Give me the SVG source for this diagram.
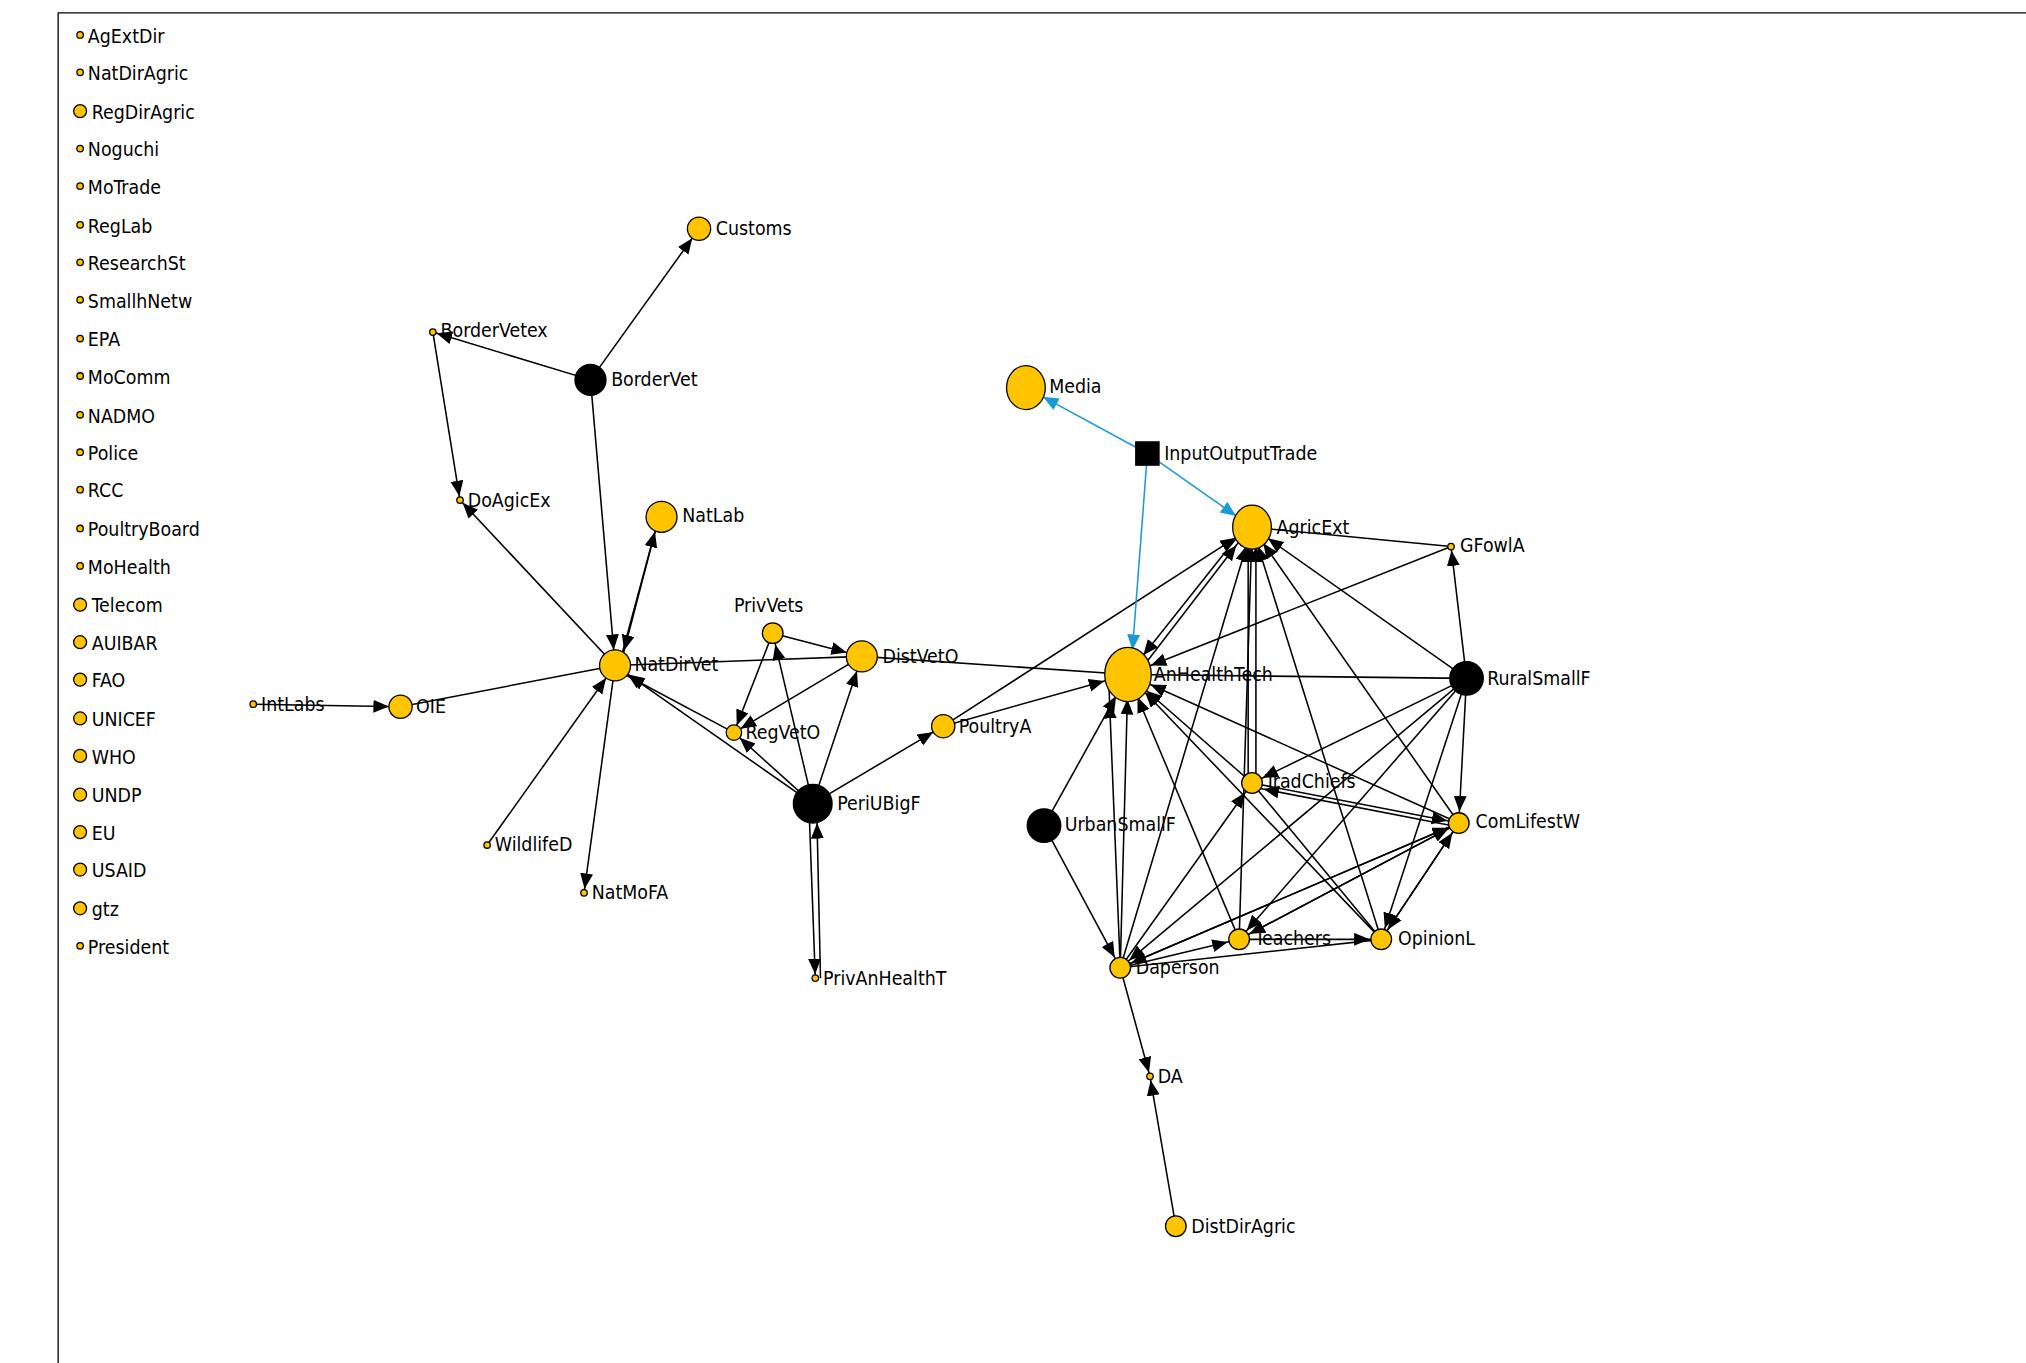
<svg xmlns="http://www.w3.org/2000/svg" width="2026" height="1363" viewBox="0 0 2026 1363">
<style>
text{font-family:"DejaVu Sans Condensed","Liberation Sans",sans-serif;font-size:15px;fill:#000}
.y{fill:#ffc400;stroke:#000;stroke-width:1}
.k{fill:#000;stroke:#000}
.e line{stroke:#000;stroke-width:1.2}
.b{stroke:#1a9ad6 !important}
</style>
<defs>
<marker id="a3" markerUnits="userSpaceOnUse" markerWidth="20" markerHeight="20" refX="15" refY="5" orient="auto"><path d="M0,0L12,5L0,10z"/></marker>
<marker id="a6" markerUnits="userSpaceOnUse" markerWidth="20" markerHeight="20" refX="18" refY="5" orient="auto"><path d="M0,0L12,5L0,10z"/></marker>
<marker id="a9" markerUnits="userSpaceOnUse" markerWidth="25" markerHeight="20" refX="21" refY="5" orient="auto"><path d="M0,0L12,5L0,10z"/></marker>
<marker id="a12" markerUnits="userSpaceOnUse" markerWidth="30" markerHeight="20" refX="24" refY="5" orient="auto"><path d="M0,0L12,5L0,10z"/></marker>
<marker id="a15" markerUnits="userSpaceOnUse" markerWidth="30" markerHeight="20" refX="27" refY="5" orient="auto"><path d="M0,0L12,5L0,10z"/></marker>
<marker id="a19" markerUnits="userSpaceOnUse" markerWidth="35" markerHeight="20" refX="31" refY="5" orient="auto"><path d="M0,0L12,5L0,10z"/></marker>
<marker id="b15" markerUnits="userSpaceOnUse" markerWidth="30" markerHeight="20" refX="27" refY="5" orient="auto"><path d="M0,0L12,5L0,10z" fill="#1a9ad6"/></marker>
<marker id="b19" markerUnits="userSpaceOnUse" markerWidth="35" markerHeight="20" refX="31" refY="5" orient="auto"><path d="M0,0L12,5L0,10z" fill="#1a9ad6"/></marker>
</defs>
<rect width="2026" height="1363" fill="#fff"/>
<g transform="scale(1.2921)">
<path d="M45,1060V10H1568" fill="none" stroke="#000" stroke-width="1"/>
<g id="list">
<g id="n-AgExtDir"><circle class="y" cx="62" cy="27" r="2.5"/><text x="68" y="33">AgExtDir</text></g>
<g id="n-NatDirAgric"><circle class="y" cx="62" cy="56" r="2.5"/><text x="68" y="62">NatDirAgric</text></g>
<g id="n-RegDirAgric"><circle class="y" cx="62" cy="86" r="5"/><text x="71" y="92">RegDirAgric</text></g>
<g id="n-Noguchi"><circle class="y" cx="62" cy="115" r="2.5"/><text x="68" y="121">Noguchi</text></g>
<g id="n-MoTrade"><circle class="y" cx="62" cy="144" r="2.5"/><text x="68" y="150">MoTrade</text></g>
<g id="n-RegLab"><circle class="y" cx="62" cy="174" r="2.5"/><text x="68" y="180">RegLab</text></g>
<g id="n-ResearchSt"><circle class="y" cx="62" cy="203" r="2.5"/><text x="68" y="209">ResearchSt</text></g>
<g id="n-SmallhNetw"><circle class="y" cx="62" cy="232" r="2.5"/><text x="68" y="238">SmallhNetw</text></g>
<g id="n-EPA"><circle class="y" cx="62" cy="262" r="2.5"/><text x="68" y="268">EPA</text></g>
<g id="n-MoComm"><circle class="y" cx="62" cy="291" r="2.5"/><text x="68" y="297">MoComm</text></g>
<g id="n-NADMO"><circle class="y" cx="62" cy="321" r="2.5"/><text x="68" y="327">NADMO</text></g>
<g id="n-Police"><circle class="y" cx="62" cy="350" r="2.5"/><text x="68" y="356">Police</text></g>
<g id="n-RCC"><circle class="y" cx="62" cy="379" r="2.5"/><text x="68" y="385">RCC</text></g>
<g id="n-PoultryBoard"><circle class="y" cx="62" cy="409" r="2.5"/><text x="68" y="415">PoultryBoard</text></g>
<g id="n-MoHealth"><circle class="y" cx="62" cy="438" r="2.5"/><text x="68" y="444">MoHealth</text></g>
<g id="n-Telecom"><circle class="y" cx="62" cy="468" r="5"/><text x="71" y="474">Telecom</text></g>
<g id="n-AUIBAR"><circle class="y" cx="62" cy="497" r="5"/><text x="71" y="503">AUIBAR</text></g>
<g id="n-FAO"><circle class="y" cx="62" cy="526" r="5"/><text x="71" y="532">FAO</text></g>
<g id="n-UNICEF"><circle class="y" cx="62" cy="556" r="5"/><text x="71" y="562">UNICEF</text></g>
<g id="n-WHO"><circle class="y" cx="62" cy="585" r="5"/><text x="71" y="591">WHO</text></g>
<g id="n-UNDP"><circle class="y" cx="62" cy="615" r="5"/><text x="71" y="621">UNDP</text></g>
<g id="n-EU"><circle class="y" cx="62" cy="644" r="5"/><text x="71" y="650">EU</text></g>
<g id="n-USAID"><circle class="y" cx="62" cy="673" r="5"/><text x="71" y="679">USAID</text></g>
<g id="n-gtz"><circle class="y" cx="62" cy="703" r="5"/><text x="71" y="709">gtz</text></g>
<g id="n-President"><circle class="y" cx="62" cy="732" r="2.5"/><text x="68" y="738">President</text></g>
</g>
<g id="connectors" class="e">
<line x1="457" y1="294" x2="541" y2="177" marker-end="url(#a9)"/>
<line x1="457" y1="294" x2="335" y2="257" marker-end="url(#a3)"/>
<line x1="335" y1="257" x2="356" y2="387" marker-end="url(#a3)"/>
<line x1="457" y1="294" x2="476" y2="515" marker-end="url(#a12)"/>
<line x1="476" y1="515" x2="356" y2="387" marker-end="url(#a3)"/>
<line x1="479" y1="515" x2="510" y2="400" marker-end="url(#a12)"/>
<line x1="510" y1="400" x2="480" y2="515" marker-end="url(#a12)"/>
<line x1="196" y1="545" x2="310" y2="547" marker-end="url(#a9)"/>
<line x1="310" y1="547" x2="476" y2="515"/>
<line x1="377" y1="654" x2="476" y2="515" marker-end="url(#a12)"/>
<line x1="476" y1="515" x2="452" y2="691" marker-end="url(#a3)"/>
<line x1="476" y1="515" x2="667" y2="508"/>
<line x1="629" y1="622" x2="476" y2="515" marker-end="url(#a12)"/>
<line x1="568" y1="567" x2="476" y2="518" marker-end="url(#a12)"/>
<line x1="598" y1="490" x2="667" y2="508" marker-end="url(#a12)"/>
<line x1="598" y1="490" x2="568" y2="567" marker-end="url(#a6)"/>
<line x1="667" y1="508" x2="568" y2="567" marker-end="url(#a6)"/>
<line x1="629" y1="622" x2="598" y2="490" marker-end="url(#a9)"/>
<line x1="629" y1="622" x2="667" y2="508" marker-end="url(#a12)"/>
<line x1="629" y1="622" x2="568" y2="567" marker-end="url(#a6)"/>
<line x1="629" y1="622" x2="730" y2="562" marker-end="url(#a9)"/>
<line x1="626" y1="622" x2="631" y2="757" marker-end="url(#a3)"/>
<line x1="635" y1="757" x2="632" y2="622" marker-end="url(#a15)"/>
<line x1="667" y1="508" x2="873" y2="522"/>
<line x1="730" y1="562" x2="873" y2="522" marker-end="url(#a19)"/>
<line x1="730" y1="562" x2="969" y2="408" marker-end="url(#a15)"/>
<line class="b" x1="888" y1="351" x2="794" y2="300" marker-end="url(#b15)"/>
<line class="b" x1="888" y1="351" x2="969" y2="408" marker-end="url(#b15)"/>
<line class="b" x1="888" y1="351" x2="875" y2="522" marker-end="url(#b19)"/>
<line x1="962" y1="410" x2="873" y2="522" marker-end="url(#a19)"/>
<line x1="880" y1="522" x2="966" y2="410" marker-end="url(#a15)"/>
<line x1="1123" y1="423" x2="969" y2="408"/>
<line x1="1123" y1="423" x2="873" y2="522" marker-end="url(#a19)"/>
<line x1="1135" y1="525" x2="1123" y2="423" marker-end="url(#a3)"/>
<line x1="1135" y1="525" x2="873" y2="522"/>
<line x1="1135" y1="525" x2="969" y2="408" marker-end="url(#a15)"/>
<line x1="1135" y1="525" x2="1129" y2="637" marker-end="url(#a9)"/>
<line x1="1135" y1="525" x2="969" y2="606" marker-end="url(#a9)"/>
<line x1="1135" y1="525" x2="867" y2="749" marker-end="url(#a9)"/>
<line x1="1135" y1="525" x2="959" y2="727" marker-end="url(#a9)"/>
<line x1="1135" y1="525" x2="1069" y2="727" marker-end="url(#a9)"/>
<line x1="966" y1="606" x2="966" y2="408" marker-end="url(#a15)"/>
<line x1="972" y1="606" x2="972" y2="408" marker-end="url(#a15)"/>
<line x1="1129" y1="637" x2="873" y2="522" marker-end="url(#a19)"/>
<line x1="969" y1="606" x2="1129" y2="637" marker-end="url(#a9)"/>
<line x1="1129" y1="640" x2="969" y2="609" marker-end="url(#a9)"/>
<line x1="969" y1="606" x2="1069" y2="727"/>
<line x1="808" y1="639" x2="873" y2="522" marker-end="url(#a19)"/>
<line x1="808" y1="639" x2="867" y2="749" marker-end="url(#a9)"/>
<line x1="867" y1="749" x2="873" y2="522" marker-end="url(#a19)"/>
<line x1="867" y1="749" x2="858" y2="525" marker-end="url(#a19)"/>
<line x1="867" y1="749" x2="969" y2="408" marker-end="url(#a15)"/>
<line x1="867" y1="749" x2="969" y2="606" marker-end="url(#a9)"/>
<line x1="867" y1="749" x2="959" y2="727" marker-end="url(#a9)"/>
<line x1="867" y1="749" x2="1069" y2="727"/>
<line x1="867" y1="749" x2="1129" y2="637" marker-end="url(#a9)"/>
<line x1="867" y1="749" x2="890" y2="833" marker-end="url(#a3)"/>
<line x1="910" y1="949" x2="890" y2="833" marker-end="url(#a3)"/>
<line x1="959" y1="727" x2="969" y2="408" marker-end="url(#a15)"/>
<line x1="959" y1="727" x2="873" y2="522" marker-end="url(#a19)"/>
<line x1="959" y1="727" x2="1069" y2="727" marker-end="url(#a9)"/>
<line x1="959" y1="727" x2="1129" y2="637" marker-end="url(#a9)"/>
<line x1="1129" y1="637" x2="969" y2="408" marker-end="url(#a15)"/>
<line x1="1129" y1="637" x2="867" y2="749" marker-end="url(#a9)"/>
<line x1="1129" y1="637" x2="959" y2="727" marker-end="url(#a9)"/>
<line x1="1129" y1="637" x2="1069" y2="727" marker-end="url(#a9)"/>
<line x1="1069" y1="727" x2="969" y2="408" marker-end="url(#a15)"/>
<line x1="1069" y1="727" x2="873" y2="522" marker-end="url(#a19)"/>
<line x1="1069" y1="727" x2="1129" y2="637" marker-end="url(#a9)"/>
<line x1="969" y1="606" x2="873" y2="522" marker-end="url(#a19)"/>
</g>
<g id="n-Customs"><circle class="y" cx="541" cy="177" r="9"/><text x="554" y="182">Customs</text></g>
<g id="n-BorderVetex"><circle class="y" cx="335" cy="257" r="2.5"/><text x="341" y="261">BorderVetex</text></g>
<g id="n-BorderVet"><circle class="k" cx="457" cy="294" r="12"/><text x="473" y="299">BorderVet</text></g>
<g id="n-DoAgicEx"><circle class="y" cx="356" cy="387" r="2.5"/><text x="362" y="392">DoAgicEx</text></g>
<g id="n-NatLab"><circle class="y" cx="512" cy="400" r="12"/><text x="528" y="404">NatLab</text></g>
<g id="n-NatDirVet"><circle class="y" cx="476" cy="515" r="12"/><text x="491" y="519">NatDirVet</text></g>
<g id="n-PrivVets"><circle class="y" cx="598" cy="490" r="8"/><text x="568" y="474">PrivVets</text></g>
<g id="n-DistVetO"><circle class="y" cx="667" cy="508" r="12"/><text x="683" y="513">DistVetO</text></g>
<g id="n-RegVetO"><circle class="y" cx="568" cy="567" r="6"/><text x="577" y="572">RegVetO</text></g>
<g id="n-PeriUBigF"><circle class="k" cx="629" cy="622" r="15"/><text x="648" y="627">PeriUBigF</text></g>
<g id="n-PoultryA"><circle class="y" cx="730" cy="562" r="9"/><text x="742" y="567">PoultryA</text></g>
<g id="n-IntLabs"><circle class="y" cx="196" cy="545" r="2.5"/><text x="202" y="550">IntLabs</text></g>
<g id="n-OIE"><circle class="y" cx="310" cy="547" r="9"/><text x="322" y="552">OIE</text></g>
<g id="n-WildlifeD"><circle class="y" cx="377" cy="654" r="2.5"/><text x="383" y="659">WildlifeD</text></g>
<g id="n-NatMoFA"><circle class="y" cx="452" cy="691" r="2.5"/><text x="458" y="696">NatMoFA</text></g>
<g id="n-PrivAnHealthT"><circle class="y" cx="631" cy="757" r="2.5"/><text x="637" y="762">PrivAnHealthT</text></g>
<g id="n-Media"><ellipse class="y" cx="794" cy="300" rx="15" ry="17"/><text x="812" y="304">Media</text></g>
<g id="n-InputOutputTrade"><rect class="k" x="879" y="342" width="18" height="18"/><text x="901" y="356">InputOutputTrade</text></g>
<g id="n-AgricExt"><ellipse class="y" cx="969" cy="408" rx="15" ry="17"/><text x="988" y="413">AgricExt</text></g>
<g id="n-GFowlA"><circle class="y" cx="1123" cy="423" r="2.5"/><text x="1130" y="427">GFowlA</text></g>
<g id="n-AnHealthTech"><ellipse class="y" cx="873" cy="522" rx="18" ry="21"/><text x="893" y="527">AnHealthTech</text></g>
<g id="n-RuralSmallF"><circle class="k" cx="1135" cy="525" r="13"/><text x="1151" y="530">RuralSmallF</text></g>
<g id="n-TradChiefs"><circle class="y" cx="969" cy="606" r="8"/><text x="979" y="610">TradChiefs</text></g>
<g id="n-UrbanSmallF"><circle class="k" cx="808" cy="639" r="13"/><text x="824" y="643">UrbanSmallF</text></g>
<g id="n-ComLifestW"><circle class="y" cx="1129" cy="637" r="8"/><text x="1142" y="641">ComLifestW</text></g>
<g id="n-Teachers"><circle class="y" cx="959" cy="727" r="8"/><text x="971" y="731">Teachers</text></g>
<g id="n-OpinionL"><circle class="y" cx="1069" cy="727" r="8"/><text x="1082" y="731">OpinionL</text></g>
<g id="n-Daperson"><circle class="y" cx="867" cy="749" r="8"/><text x="879" y="754">Daperson</text></g>
<g id="n-DA"><circle class="y" cx="890" cy="833" r="2.5"/><text x="896" y="838">DA</text></g>
<g id="n-DistDirAgric"><circle class="y" cx="910" cy="949" r="8"/><text x="922" y="954">DistDirAgric</text></g>
</g>
</svg>
